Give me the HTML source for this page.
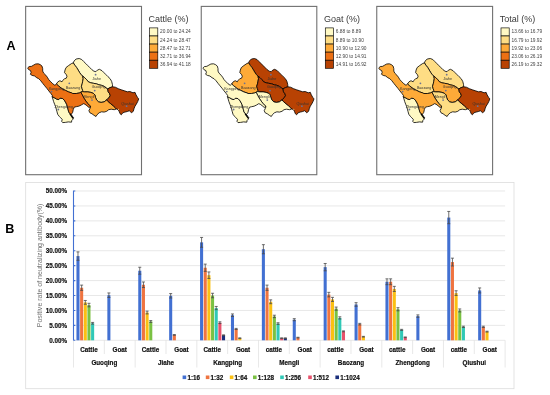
<!DOCTYPE html>
<html lang="en"><head><meta charset="utf-8"><title>Figure</title>
<style>html,body{margin:0;padding:0;background:#fff}svg{display:block}text{font-family:"Liberation Sans",sans-serif}</style>
</head><body>
<svg width="550" height="395" viewBox="0 0 550 395">
<rect width="550" height="395" fill="#fff"/>
<text x="6.6" y="50" font-size="12.6" font-weight="bold" fill="#000">A</text>
<text x="5.2" y="233.1" font-size="12.6" font-weight="bold" fill="#000">B</text>
<g transform="translate(0.0,0)">
<rect x="25.65" y="6.4" width="115.85" height="168.3" fill="#fff" stroke="#707070" stroke-width="1.1"/>
<g stroke="#000" stroke-width="0.8" stroke-linejoin="round">
<polygon points="52.1,96.6 54.1,97.6 56.7,99.1 58.7,99.6 60.2,98.1 62.7,98.6 64.2,100.1 65.5,102.1 66.8,104.7 67.4,106.7 68.0,109.2 68.7,111.8 69.7,113.5 71.2,114.5 72.6,116.5 73.6,117.8 72.8,119.4 71.8,120.4 71.5,122.2 68.3,121.9 65.3,122.4 62.7,122.6 61.7,121.4 62.2,119.4 60.7,117.8 59.2,116.3 57.7,114.3 57.0,111.8 56.3,109.2 55.6,106.7 54.6,104.2 53.6,101.6 52.9,99.1" fill="#FFF9C4"/>
<polygon points="73.3,62.9 74.1,61.0 76.1,59.0 79.2,58.5 81.7,59.5 83.7,61.5 85.8,63.6 87.8,65.6 89.8,67.6 91.8,69.6 93.9,71.2 95.9,71.7 97.4,70.1 99.4,69.3 102.0,70.7 104.0,72.7 106.0,74.7 108.0,76.7 110.1,78.7 111.6,81.3 112.4,84.3 112.6,86.8 110.1,87.6 107.7,88.9 106.0,87.9 104.0,86.3 101.4,85.3 98.9,84.8 96.4,83.8 93.4,83.3 90.8,82.8 88.3,81.8 86.8,79.8 84.7,77.7 82.7,76.2 81.2,74.7 79.7,72.7 78.2,70.1 76.7,67.6 75.1,65.6" fill="#FFF9C4"/>
<polygon points="56.4,84.0 57.9,81.8 59.9,80.7 62.0,81.8 63.0,80.2 64.5,78.7 66.3,78.2 67.0,76.2 66.0,74.2 64.5,72.7 65.0,70.1 66.0,67.6 68.5,65.6 71.6,63.5 73.3,62.9 75.1,65.6 76.7,67.6 78.2,70.1 79.7,72.7 81.2,74.7 82.7,76.2 83.2,78.7 82.7,81.3 82.2,83.8 81.4,86.3 82.0,88.4 82.7,90.4 82.2,91.6 80.8,92.2 79.3,93.0 76.3,93.5 72.7,93.5 71.6,92.9 68.5,91.9 65.5,90.4 63.0,89.4 60.9,87.8 58.4,85.8" fill="#FEDD84"/>
<polygon points="82.7,76.2 84.7,77.7 86.8,79.8 88.3,81.8 90.8,82.8 93.4,83.3 96.4,83.8 98.9,84.8 101.4,85.3 104.0,86.3 106.0,87.9 107.7,88.9 108.2,91.8 109.7,93.8 110.2,95.8 108.7,97.9 106.7,99.9 104.1,101.9 101.1,102.4 98.6,101.9 96.5,99.9 95.5,97.4 94.9,94.9 93.4,93.4 90.8,92.4 87.8,91.9 84.7,91.9 82.2,91.6 82.7,90.4 82.0,88.4 81.4,86.3 82.2,83.8 82.7,81.3 83.2,78.7" fill="#FEDD84"/>
<polygon points="80.8,92.2 82.2,91.6 84.7,91.9 87.8,91.9 90.8,92.4 93.4,93.4 94.9,94.9 95.5,97.4 96.5,99.9 98.6,101.9 101.1,102.4 104.1,101.9 106.7,99.9 108.2,101.6 110.7,103.7 113.2,105.7 115.3,107.7 116.5,109.0 114.2,109.7 111.2,109.2 108.7,109.7 106.7,111.3 104.1,112.1 101.6,111.8 99.1,112.8 97.0,114.8 96.0,116.5 94.0,115.3 92.0,113.8 89.9,112.8 88.9,110.7 89.9,108.7 90.6,106.9 89.9,105.7 87.9,103.7 85.9,101.1 83.9,98.1 82.3,95.1" fill="#FEAA38"/>
<polygon points="112.6,86.8 115.3,87.2 118.3,88.7 121.3,89.8 124.4,90.8 127.4,91.8 129.9,91.5 133.0,92.8 135.0,92.3 136.0,94.8 137.5,97.4 138.7,98.9 137.7,101.6 136.3,104.2 135.0,106.2 134.0,108.7 133.3,111.3 131.4,112.8 129.4,110.7 127.4,111.5 124.9,112.1 122.8,112.8 121.3,114.8 120.1,113.8 119.3,111.8 118.3,109.7 116.5,109.0 115.3,107.7 113.2,105.7 110.7,103.7 108.2,101.6 106.7,99.9 108.7,97.9 110.2,95.8 109.7,93.8 108.2,91.8 107.7,88.9 110.1,87.6" fill="#B84203"/>
<polygon points="27.8,67.8 29.1,66.6 31.6,66.3 33.6,65.1 35.6,64.0 38.2,63.8 40.2,64.6 42.0,66.1 42.7,68.6 42.7,71.1 43.7,73.2 45.8,75.2 47.3,77.2 48.8,79.7 50.8,81.8 52.8,83.8 54.9,85.3 56.4,84.0 58.4,85.8 60.9,87.8 63.0,89.4 65.5,90.4 68.5,91.9 71.6,92.9 72.7,93.5 76.3,93.5 79.3,93.0 80.8,92.2 82.3,95.1 83.9,98.1 85.9,101.1 87.9,103.7 89.9,105.7 90.6,106.9 88.9,107.4 86.9,105.7 84.9,104.2 83.4,103.7 81.3,105.0 78.8,106.2 76.3,106.7 74.2,107.2 73.2,109.7 72.7,112.3 71.2,114.5 69.7,113.5 68.7,111.8 68.0,109.2 67.4,106.7 66.8,104.7 65.5,102.1 64.2,100.1 62.7,98.6 60.2,98.1 58.7,99.6 56.7,99.1 54.1,97.6 52.1,96.6 52.3,95.4 50.8,93.4 48.8,90.9 46.8,88.3 44.7,85.8 42.7,83.3 40.7,80.7 38.7,78.7 36.7,77.7 34.6,76.0 32.1,75.4 30.3,74.2 31.1,72.7 30.6,70.6 28.6,69.6 27.8,68.3" fill="#EC7014"/>
<line x1="69.9" y1="113.9" x2="73.1" y2="118.4" stroke-width="1.3"/>
</g>
<circle cx="118.5" cy="109.2" r="0.55" fill="#FEE391"/>
<g font-size="3.65" fill="#333" text-anchor="middle">
<circle cx="95.6" cy="74.7" r="0.9" fill="#6a7296"/>
<text x="96.6" y="80.4">Jiahe</text>
<circle cx="94.7" cy="90.6" r="0.9" fill="#6a7296"/>
<text x="98.6" y="88.2">Guoqing</text>
<circle cx="69.3" cy="83.3" r="0.9" fill="#6a7296"/>
<text x="73.0" y="88.9">Baozang</text>
<circle cx="51.5" cy="91.6" r="0.9" fill="#6a7296"/>
<text x="56.6" y="90.0">Kangping</text>
<circle cx="92.0" cy="100.1" r="0.9" fill="#6a7296"/>
<text x="88.9" y="98.0">Mengli</text>
<circle cx="126.6" cy="106.2" r="0.9" fill="#6a7296"/>
<text x="127.5" y="104.7">Qiushui</text>
<circle cx="58.3" cy="109.5" r="0.9" fill="#6a7296"/>
<text x="63.8" y="107.5">Zhengdong</text>
</g>
<g transform="translate(0.0,0)">
<text x="148.4" y="21.7" font-size="9" fill="#3a3a3a">Cattle (%)</text>
<rect x="149.6" y="27.90" width="8.2" height="8.08" fill="#FFF9C4" stroke="#000" stroke-width="0.65"/>
<text x="160.1" y="33.30" font-size="4.8" fill="#444">20.00 to 24.24</text>
<rect x="149.6" y="35.98" width="8.2" height="8.08" fill="#FEDD84" stroke="#000" stroke-width="0.65"/>
<text x="160.1" y="41.50" font-size="4.8" fill="#444">24.24 to 28.47</text>
<rect x="149.6" y="44.06" width="8.2" height="8.08" fill="#FEAA38" stroke="#000" stroke-width="0.65"/>
<text x="160.1" y="49.70" font-size="4.8" fill="#444">28.47 to 32.71</text>
<rect x="149.6" y="52.14" width="8.2" height="8.08" fill="#EC7014" stroke="#000" stroke-width="0.65"/>
<text x="160.1" y="57.90" font-size="4.8" fill="#444">32.71 to 36.94</text>
<rect x="149.6" y="60.22" width="8.2" height="8.08" fill="#B84203" stroke="#000" stroke-width="0.65"/>
<text x="160.1" y="66.10" font-size="4.8" fill="#444">36.94 to 41.18</text>
</g>
</g>
<g transform="translate(175.3,0)">
<rect x="25.95" y="6.4" width="115.55" height="168.3" fill="#fff" stroke="#707070" stroke-width="1.1"/>
<g stroke="#000" stroke-width="0.8" stroke-linejoin="round">
<polygon points="52.1,96.6 54.1,97.6 56.7,99.1 58.7,99.6 60.2,98.1 62.7,98.6 64.2,100.1 65.5,102.1 66.8,104.7 67.4,106.7 68.0,109.2 68.7,111.8 69.7,113.5 71.2,114.5 72.6,116.5 73.6,117.8 72.8,119.4 71.8,120.4 71.5,122.2 68.3,121.9 65.3,122.4 62.7,122.6 61.7,121.4 62.2,119.4 60.7,117.8 59.2,116.3 57.7,114.3 57.0,111.8 56.3,109.2 55.6,106.7 54.6,104.2 53.6,101.6 52.9,99.1" fill="#FFF9C4"/>
<polygon points="73.3,62.9 74.1,61.0 76.1,59.0 79.2,58.5 81.7,59.5 83.7,61.5 85.8,63.6 87.8,65.6 89.8,67.6 91.8,69.6 93.9,71.2 95.9,71.7 97.4,70.1 99.4,69.3 102.0,70.7 104.0,72.7 106.0,74.7 108.0,76.7 110.1,78.7 111.6,81.3 112.4,84.3 112.6,86.8 110.1,87.6 107.7,88.9 106.0,87.9 104.0,86.3 101.4,85.3 98.9,84.8 96.4,83.8 93.4,83.3 90.8,82.8 88.3,81.8 86.8,79.8 84.7,77.7 82.7,76.2 81.2,74.7 79.7,72.7 78.2,70.1 76.7,67.6 75.1,65.6" fill="#B84203"/>
<polygon points="56.4,84.0 57.9,81.8 59.9,80.7 62.0,81.8 63.0,80.2 64.5,78.7 66.3,78.2 67.0,76.2 66.0,74.2 64.5,72.7 65.0,70.1 66.0,67.6 68.5,65.6 71.6,63.5 73.3,62.9 75.1,65.6 76.7,67.6 78.2,70.1 79.7,72.7 81.2,74.7 82.7,76.2 83.2,78.7 82.7,81.3 82.2,83.8 81.4,86.3 82.0,88.4 82.7,90.4 82.2,91.6 80.8,92.2 79.3,93.0 76.3,93.5 72.7,93.5 71.6,92.9 68.5,91.9 65.5,90.4 63.0,89.4 60.9,87.8 58.4,85.8" fill="#FEAA38"/>
<polygon points="82.7,76.2 84.7,77.7 86.8,79.8 88.3,81.8 90.8,82.8 93.4,83.3 96.4,83.8 98.9,84.8 101.4,85.3 104.0,86.3 106.0,87.9 107.7,88.9 108.2,91.8 109.7,93.8 110.2,95.8 108.7,97.9 106.7,99.9 104.1,101.9 101.1,102.4 98.6,101.9 96.5,99.9 95.5,97.4 94.9,94.9 93.4,93.4 90.8,92.4 87.8,91.9 84.7,91.9 82.2,91.6 82.7,90.4 82.0,88.4 81.4,86.3 82.2,83.8 82.7,81.3 83.2,78.7" fill="#B84203"/>
<polygon points="80.8,92.2 82.2,91.6 84.7,91.9 87.8,91.9 90.8,92.4 93.4,93.4 94.9,94.9 95.5,97.4 96.5,99.9 98.6,101.9 101.1,102.4 104.1,101.9 106.7,99.9 108.2,101.6 110.7,103.7 113.2,105.7 115.3,107.7 116.5,109.0 114.2,109.7 111.2,109.2 108.7,109.7 106.7,111.3 104.1,112.1 101.6,111.8 99.1,112.8 97.0,114.8 96.0,116.5 94.0,115.3 92.0,113.8 89.9,112.8 88.9,110.7 89.9,108.7 90.6,106.9 89.9,105.7 87.9,103.7 85.9,101.1 83.9,98.1 82.3,95.1" fill="#FFF9C4"/>
<polygon points="112.6,86.8 115.3,87.2 118.3,88.7 121.3,89.8 124.4,90.8 127.4,91.8 129.9,91.5 133.0,92.8 135.0,92.3 136.0,94.8 137.5,97.4 138.7,98.9 137.7,101.6 136.3,104.2 135.0,106.2 134.0,108.7 133.3,111.3 131.4,112.8 129.4,110.7 127.4,111.5 124.9,112.1 122.8,112.8 121.3,114.8 120.1,113.8 119.3,111.8 118.3,109.7 116.5,109.0 115.3,107.7 113.2,105.7 110.7,103.7 108.2,101.6 106.7,99.9 108.7,97.9 110.2,95.8 109.7,93.8 108.2,91.8 107.7,88.9 110.1,87.6" fill="#B84203"/>
<polygon points="27.8,67.8 29.1,66.6 31.6,66.3 33.6,65.1 35.6,64.0 38.2,63.8 40.2,64.6 42.0,66.1 42.7,68.6 42.7,71.1 43.7,73.2 45.8,75.2 47.3,77.2 48.8,79.7 50.8,81.8 52.8,83.8 54.9,85.3 56.4,84.0 58.4,85.8 60.9,87.8 63.0,89.4 65.5,90.4 68.5,91.9 71.6,92.9 72.7,93.5 76.3,93.5 79.3,93.0 80.8,92.2 82.3,95.1 83.9,98.1 85.9,101.1 87.9,103.7 89.9,105.7 90.6,106.9 88.9,107.4 86.9,105.7 84.9,104.2 83.4,103.7 81.3,105.0 78.8,106.2 76.3,106.7 74.2,107.2 73.2,109.7 72.7,112.3 71.2,114.5 69.7,113.5 68.7,111.8 68.0,109.2 67.4,106.7 66.8,104.7 65.5,102.1 64.2,100.1 62.7,98.6 60.2,98.1 58.7,99.6 56.7,99.1 54.1,97.6 52.1,96.6 52.3,95.4 50.8,93.4 48.8,90.9 46.8,88.3 44.7,85.8 42.7,83.3 40.7,80.7 38.7,78.7 36.7,77.7 34.6,76.0 32.1,75.4 30.3,74.2 31.1,72.7 30.6,70.6 28.6,69.6 27.8,68.3" fill="#FFF9C4"/>
<line x1="69.9" y1="113.9" x2="73.1" y2="118.4" stroke-width="1.3"/>
</g>
<circle cx="118.5" cy="109.2" r="0.55" fill="#FEE391"/>
<g font-size="3.65" fill="#333" text-anchor="middle">
<circle cx="95.6" cy="74.7" r="0.9" fill="#6a7296"/>
<text x="96.6" y="80.4">Jiahe</text>
<circle cx="94.7" cy="90.6" r="0.9" fill="#6a7296"/>
<text x="98.6" y="88.2">Guoqing</text>
<circle cx="69.3" cy="83.3" r="0.9" fill="#6a7296"/>
<text x="73.0" y="88.9">Baozang</text>
<circle cx="51.5" cy="91.6" r="0.9" fill="#6a7296"/>
<text x="56.6" y="90.0">Kangping</text>
<circle cx="92.0" cy="100.1" r="0.9" fill="#6a7296"/>
<text x="88.9" y="98.0">Mengli</text>
<circle cx="126.6" cy="106.2" r="0.9" fill="#6a7296"/>
<text x="127.5" y="104.7">Qiushui</text>
<circle cx="58.3" cy="109.5" r="0.9" fill="#6a7296"/>
<text x="63.8" y="107.5">Zhengdong</text>
</g>
<g transform="translate(0.4,0)">
<text x="148.4" y="21.7" font-size="9" fill="#3a3a3a">Goat (%)</text>
<rect x="149.6" y="27.90" width="8.2" height="8.08" fill="#FFF9C4" stroke="#000" stroke-width="0.65"/>
<text x="160.1" y="33.30" font-size="4.8" fill="#444">6.88 to 8.89</text>
<rect x="149.6" y="35.98" width="8.2" height="8.08" fill="#FEDD84" stroke="#000" stroke-width="0.65"/>
<text x="160.1" y="41.50" font-size="4.8" fill="#444">8.89 to 10.90</text>
<rect x="149.6" y="44.06" width="8.2" height="8.08" fill="#FEAA38" stroke="#000" stroke-width="0.65"/>
<text x="160.1" y="49.70" font-size="4.8" fill="#444">10.90 to 12.90</text>
<rect x="149.6" y="52.14" width="8.2" height="8.08" fill="#EC7014" stroke="#000" stroke-width="0.65"/>
<text x="160.1" y="57.90" font-size="4.8" fill="#444">12.90 to 14.91</text>
<rect x="149.6" y="60.22" width="8.2" height="8.08" fill="#B84203" stroke="#000" stroke-width="0.65"/>
<text x="160.1" y="66.10" font-size="4.8" fill="#444">14.91 to 16.92</text>
</g>
</g>
<g transform="translate(351.1,0)">
<rect x="25.65" y="6.4" width="115.85" height="168.3" fill="#fff" stroke="#707070" stroke-width="1.1"/>
<g stroke="#000" stroke-width="0.8" stroke-linejoin="round">
<polygon points="52.1,96.6 54.1,97.6 56.7,99.1 58.7,99.6 60.2,98.1 62.7,98.6 64.2,100.1 65.5,102.1 66.8,104.7 67.4,106.7 68.0,109.2 68.7,111.8 69.7,113.5 71.2,114.5 72.6,116.5 73.6,117.8 72.8,119.4 71.8,120.4 71.5,122.2 68.3,121.9 65.3,122.4 62.7,122.6 61.7,121.4 62.2,119.4 60.7,117.8 59.2,116.3 57.7,114.3 57.0,111.8 56.3,109.2 55.6,106.7 54.6,104.2 53.6,101.6 52.9,99.1" fill="#FFF9C4"/>
<polygon points="73.3,62.9 74.1,61.0 76.1,59.0 79.2,58.5 81.7,59.5 83.7,61.5 85.8,63.6 87.8,65.6 89.8,67.6 91.8,69.6 93.9,71.2 95.9,71.7 97.4,70.1 99.4,69.3 102.0,70.7 104.0,72.7 106.0,74.7 108.0,76.7 110.1,78.7 111.6,81.3 112.4,84.3 112.6,86.8 110.1,87.6 107.7,88.9 106.0,87.9 104.0,86.3 101.4,85.3 98.9,84.8 96.4,83.8 93.4,83.3 90.8,82.8 88.3,81.8 86.8,79.8 84.7,77.7 82.7,76.2 81.2,74.7 79.7,72.7 78.2,70.1 76.7,67.6 75.1,65.6" fill="#FEDD84"/>
<polygon points="56.4,84.0 57.9,81.8 59.9,80.7 62.0,81.8 63.0,80.2 64.5,78.7 66.3,78.2 67.0,76.2 66.0,74.2 64.5,72.7 65.0,70.1 66.0,67.6 68.5,65.6 71.6,63.5 73.3,62.9 75.1,65.6 76.7,67.6 78.2,70.1 79.7,72.7 81.2,74.7 82.7,76.2 83.2,78.7 82.7,81.3 82.2,83.8 81.4,86.3 82.0,88.4 82.7,90.4 82.2,91.6 80.8,92.2 79.3,93.0 76.3,93.5 72.7,93.5 71.6,92.9 68.5,91.9 65.5,90.4 63.0,89.4 60.9,87.8 58.4,85.8" fill="#FEDD84"/>
<polygon points="82.7,76.2 84.7,77.7 86.8,79.8 88.3,81.8 90.8,82.8 93.4,83.3 96.4,83.8 98.9,84.8 101.4,85.3 104.0,86.3 106.0,87.9 107.7,88.9 108.2,91.8 109.7,93.8 110.2,95.8 108.7,97.9 106.7,99.9 104.1,101.9 101.1,102.4 98.6,101.9 96.5,99.9 95.5,97.4 94.9,94.9 93.4,93.4 90.8,92.4 87.8,91.9 84.7,91.9 82.2,91.6 82.7,90.4 82.0,88.4 81.4,86.3 82.2,83.8 82.7,81.3 83.2,78.7" fill="#FEAA38"/>
<polygon points="80.8,92.2 82.2,91.6 84.7,91.9 87.8,91.9 90.8,92.4 93.4,93.4 94.9,94.9 95.5,97.4 96.5,99.9 98.6,101.9 101.1,102.4 104.1,101.9 106.7,99.9 108.2,101.6 110.7,103.7 113.2,105.7 115.3,107.7 116.5,109.0 114.2,109.7 111.2,109.2 108.7,109.7 106.7,111.3 104.1,112.1 101.6,111.8 99.1,112.8 97.0,114.8 96.0,116.5 94.0,115.3 92.0,113.8 89.9,112.8 88.9,110.7 89.9,108.7 90.6,106.9 89.9,105.7 87.9,103.7 85.9,101.1 83.9,98.1 82.3,95.1" fill="#FEDD84"/>
<polygon points="112.6,86.8 115.3,87.2 118.3,88.7 121.3,89.8 124.4,90.8 127.4,91.8 129.9,91.5 133.0,92.8 135.0,92.3 136.0,94.8 137.5,97.4 138.7,98.9 137.7,101.6 136.3,104.2 135.0,106.2 134.0,108.7 133.3,111.3 131.4,112.8 129.4,110.7 127.4,111.5 124.9,112.1 122.8,112.8 121.3,114.8 120.1,113.8 119.3,111.8 118.3,109.7 116.5,109.0 115.3,107.7 113.2,105.7 110.7,103.7 108.2,101.6 106.7,99.9 108.7,97.9 110.2,95.8 109.7,93.8 108.2,91.8 107.7,88.9 110.1,87.6" fill="#B84203"/>
<polygon points="27.8,67.8 29.1,66.6 31.6,66.3 33.6,65.1 35.6,64.0 38.2,63.8 40.2,64.6 42.0,66.1 42.7,68.6 42.7,71.1 43.7,73.2 45.8,75.2 47.3,77.2 48.8,79.7 50.8,81.8 52.8,83.8 54.9,85.3 56.4,84.0 58.4,85.8 60.9,87.8 63.0,89.4 65.5,90.4 68.5,91.9 71.6,92.9 72.7,93.5 76.3,93.5 79.3,93.0 80.8,92.2 82.3,95.1 83.9,98.1 85.9,101.1 87.9,103.7 89.9,105.7 90.6,106.9 88.9,107.4 86.9,105.7 84.9,104.2 83.4,103.7 81.3,105.0 78.8,106.2 76.3,106.7 74.2,107.2 73.2,109.7 72.7,112.3 71.2,114.5 69.7,113.5 68.7,111.8 68.0,109.2 67.4,106.7 66.8,104.7 65.5,102.1 64.2,100.1 62.7,98.6 60.2,98.1 58.7,99.6 56.7,99.1 54.1,97.6 52.1,96.6 52.3,95.4 50.8,93.4 48.8,90.9 46.8,88.3 44.7,85.8 42.7,83.3 40.7,80.7 38.7,78.7 36.7,77.7 34.6,76.0 32.1,75.4 30.3,74.2 31.1,72.7 30.6,70.6 28.6,69.6 27.8,68.3" fill="#FEAA38"/>
<line x1="69.9" y1="113.9" x2="73.1" y2="118.4" stroke-width="1.3"/>
</g>
<circle cx="118.5" cy="109.2" r="0.55" fill="#FEE391"/>
<g font-size="3.65" fill="#333" text-anchor="middle">
<circle cx="95.6" cy="74.7" r="0.9" fill="#6a7296"/>
<text x="96.6" y="80.4">Jiahe</text>
<circle cx="94.7" cy="90.6" r="0.9" fill="#6a7296"/>
<text x="98.6" y="88.2">Guoqing</text>
<circle cx="69.3" cy="83.3" r="0.9" fill="#6a7296"/>
<text x="73.0" y="88.9">Baozang</text>
<circle cx="51.5" cy="91.6" r="0.9" fill="#6a7296"/>
<text x="56.6" y="90.0">Kangping</text>
<circle cx="92.0" cy="100.1" r="0.9" fill="#6a7296"/>
<text x="88.9" y="98.0">Mengli</text>
<circle cx="126.6" cy="106.2" r="0.9" fill="#6a7296"/>
<text x="127.5" y="104.7">Qiushui</text>
<circle cx="58.3" cy="109.5" r="0.9" fill="#6a7296"/>
<text x="63.8" y="107.5">Zhengdong</text>
</g>
<g transform="translate(0.3,0)">
<text x="148.4" y="21.7" font-size="9" fill="#3a3a3a">Total (%)</text>
<rect x="149.6" y="27.90" width="8.2" height="8.08" fill="#FFF9C4" stroke="#000" stroke-width="0.65"/>
<text x="160.1" y="33.30" font-size="4.8" fill="#444">13.66 to 16.79</text>
<rect x="149.6" y="35.98" width="8.2" height="8.08" fill="#FEDD84" stroke="#000" stroke-width="0.65"/>
<text x="160.1" y="41.50" font-size="4.8" fill="#444">16.79 to 19.92</text>
<rect x="149.6" y="44.06" width="8.2" height="8.08" fill="#FEAA38" stroke="#000" stroke-width="0.65"/>
<text x="160.1" y="49.70" font-size="4.8" fill="#444">19.92 to 23.06</text>
<rect x="149.6" y="52.14" width="8.2" height="8.08" fill="#EC7014" stroke="#000" stroke-width="0.65"/>
<text x="160.1" y="57.90" font-size="4.8" fill="#444">23.06 to 26.19</text>
<rect x="149.6" y="60.22" width="8.2" height="8.08" fill="#B84203" stroke="#000" stroke-width="0.65"/>
<text x="160.1" y="66.10" font-size="4.8" fill="#444">26.19 to 29.32</text>
</g>
</g>
<rect x="25.7" y="182.4" width="488.3" height="206.3" fill="#fff" stroke="#dcdcdc" stroke-width="0.8"/>
<g stroke="#d9d9d9" stroke-width="0.6">
<line x1="73.5" y1="325.37" x2="505.1" y2="325.37"/>
<line x1="73.5" y1="310.44" x2="505.1" y2="310.44"/>
<line x1="73.5" y1="295.51" x2="505.1" y2="295.51"/>
<line x1="73.5" y1="280.58" x2="505.1" y2="280.58"/>
<line x1="73.5" y1="265.65" x2="505.1" y2="265.65"/>
<line x1="73.5" y1="250.72" x2="505.1" y2="250.72"/>
<line x1="73.5" y1="235.79" x2="505.1" y2="235.79"/>
<line x1="73.5" y1="220.86" x2="505.1" y2="220.86"/>
<line x1="73.5" y1="205.93" x2="505.1" y2="205.93"/>
<line x1="73.5" y1="191.00" x2="505.1" y2="191.00"/>
<line x1="73.5" y1="340.30" x2="505.1" y2="340.30"/>
<line x1="73.50" y1="340.30" x2="73.50" y2="367.50"/>
<line x1="104.33" y1="340.30" x2="104.33" y2="354.00"/>
<line x1="135.16" y1="340.30" x2="135.16" y2="367.50"/>
<line x1="165.99" y1="340.30" x2="165.99" y2="354.00"/>
<line x1="196.82" y1="340.30" x2="196.82" y2="367.50"/>
<line x1="227.65" y1="340.30" x2="227.65" y2="354.00"/>
<line x1="258.48" y1="340.30" x2="258.48" y2="367.50"/>
<line x1="289.31" y1="340.30" x2="289.31" y2="354.00"/>
<line x1="320.14" y1="340.30" x2="320.14" y2="367.50"/>
<line x1="350.97" y1="340.30" x2="350.97" y2="354.00"/>
<line x1="381.80" y1="340.30" x2="381.80" y2="367.50"/>
<line x1="412.63" y1="340.30" x2="412.63" y2="354.00"/>
<line x1="443.46" y1="340.30" x2="443.46" y2="367.50"/>
<line x1="474.29" y1="340.30" x2="474.29" y2="354.00"/>
<line x1="505.12" y1="340.30" x2="505.12" y2="367.50"/>
</g>
<g font-size="6.3" font-weight="bold" fill="#111" stroke="#111" stroke-width="0.18" text-anchor="end">
<text x="67" y="342.55">0.00%</text>
<text x="67" y="327.62">5.00%</text>
<text x="67" y="312.69">10.00%</text>
<text x="67" y="297.76">15.00%</text>
<text x="67" y="282.83">20.00%</text>
<text x="67" y="267.90">25.00%</text>
<text x="67" y="252.97">30.00%</text>
<text x="67" y="238.04">35.00%</text>
<text x="67" y="223.11">40.00%</text>
<text x="67" y="208.18">45.00%</text>
<text x="67" y="193.25">50.00%</text>
</g>
<text transform="translate(41.6,327.3) rotate(-90)" font-size="6.5" fill="#737373" textLength="123.7" lengthAdjust="spacingAndGlyphs">Positive rate of neutralizing antibody(%)</text>
<g><rect x="76.45" y="256.09" width="3.06" height="84.21" fill="#4270D2"/><rect x="80.11" y="287.75" width="3.06" height="52.55" fill="#EF7440"/><rect x="83.77" y="302.38" width="3.06" height="37.92" fill="#FBC012"/><rect x="87.43" y="305.07" width="3.06" height="35.23" fill="#7AC143"/><rect x="91.09" y="323.28" width="3.06" height="17.02" fill="#30C8B6"/><rect x="107.35" y="295.21" width="3.06" height="45.09" fill="#4270D2"/><rect x="138.25" y="270.73" width="3.06" height="69.57" fill="#4270D2"/><rect x="141.91" y="284.76" width="3.06" height="55.54" fill="#EF7440"/><rect x="145.57" y="312.53" width="3.06" height="27.77" fill="#FBC012"/><rect x="149.23" y="321.49" width="3.06" height="18.81" fill="#7AC143"/><rect x="169.15" y="295.81" width="3.06" height="44.49" fill="#4270D2"/><rect x="172.81" y="334.93" width="3.06" height="5.37" fill="#EF7440"/><rect x="200.05" y="242.36" width="3.06" height="97.94" fill="#4270D2"/><rect x="203.71" y="267.74" width="3.06" height="72.56" fill="#EF7440"/><rect x="207.37" y="275.21" width="3.06" height="65.09" fill="#FBC012"/><rect x="211.03" y="295.51" width="3.06" height="44.79" fill="#7AC143"/><rect x="214.69" y="308.05" width="3.06" height="32.25" fill="#30C8B6"/><rect x="218.35" y="322.68" width="3.06" height="17.62" fill="#E8526C"/><rect x="222.01" y="335.22" width="3.06" height="5.08" fill="#1B307C"/><rect x="230.95" y="315.22" width="3.06" height="25.08" fill="#4270D2"/><rect x="234.61" y="328.95" width="3.06" height="11.35" fill="#EF7440"/><rect x="238.27" y="338.21" width="3.06" height="2.09" fill="#FBC012"/><rect x="261.85" y="249.23" width="3.06" height="91.07" fill="#4270D2"/><rect x="265.51" y="287.75" width="3.06" height="52.55" fill="#EF7440"/><rect x="269.17" y="301.78" width="3.06" height="38.52" fill="#FBC012"/><rect x="272.83" y="316.41" width="3.06" height="23.89" fill="#7AC143"/><rect x="276.49" y="323.58" width="3.06" height="16.72" fill="#30C8B6"/><rect x="280.15" y="338.21" width="3.06" height="2.09" fill="#E8526C"/><rect x="283.81" y="338.21" width="3.06" height="2.09" fill="#1B307C"/><rect x="292.75" y="319.70" width="3.06" height="20.60" fill="#4270D2"/><rect x="296.41" y="337.61" width="3.06" height="2.69" fill="#EF7440"/><rect x="323.65" y="267.14" width="3.06" height="73.16" fill="#4270D2"/><rect x="327.31" y="294.61" width="3.06" height="45.69" fill="#EF7440"/><rect x="330.97" y="299.39" width="3.06" height="40.91" fill="#FBC012"/><rect x="334.63" y="308.65" width="3.06" height="31.65" fill="#7AC143"/><rect x="338.29" y="317.91" width="3.06" height="22.39" fill="#30C8B6"/><rect x="341.95" y="331.34" width="3.06" height="8.96" fill="#E8526C"/><rect x="354.55" y="304.47" width="3.06" height="35.83" fill="#4270D2"/><rect x="358.21" y="324.18" width="3.06" height="16.12" fill="#EF7440"/><rect x="361.87" y="336.72" width="3.06" height="3.58" fill="#FBC012"/><rect x="385.45" y="281.77" width="3.06" height="58.53" fill="#4270D2"/><rect x="389.11" y="281.77" width="3.06" height="58.53" fill="#EF7440"/><rect x="392.77" y="288.94" width="3.06" height="51.36" fill="#FBC012"/><rect x="396.43" y="309.25" width="3.06" height="31.05" fill="#7AC143"/><rect x="400.09" y="329.85" width="3.06" height="10.45" fill="#30C8B6"/><rect x="403.75" y="337.31" width="3.06" height="2.99" fill="#E8526C"/><rect x="416.35" y="316.11" width="3.06" height="24.19" fill="#4270D2"/><rect x="447.25" y="217.58" width="3.06" height="122.72" fill="#4270D2"/><rect x="450.91" y="262.07" width="3.06" height="78.23" fill="#EF7440"/><rect x="454.57" y="293.12" width="3.06" height="47.18" fill="#FBC012"/><rect x="458.23" y="310.44" width="3.06" height="29.86" fill="#7AC143"/><rect x="461.89" y="326.86" width="3.06" height="13.44" fill="#30C8B6"/><rect x="478.15" y="290.43" width="3.06" height="49.87" fill="#4270D2"/><rect x="481.81" y="326.86" width="3.06" height="13.44" fill="#EF7440"/><rect x="485.47" y="331.64" width="3.06" height="8.66" fill="#FBC012"/></g>
<g stroke="#4a4a4a" stroke-width="0.8" fill="none"><path d="M77.98 251.88V260.31M76.48 251.88h3M76.48 260.31h3"/><path d="M81.64 285.12V290.37M80.14 285.12h3M80.14 290.37h3"/><path d="M85.30 300.48V304.27M83.80 300.48h3M83.80 304.27h3"/><path d="M88.96 303.30V306.83M87.46 303.30h3M87.46 306.83h3"/><path d="M92.62 322.43V324.13M91.12 322.43h3M91.12 324.13h3"/><path d="M108.88 292.96V297.47M107.38 292.96h3M107.38 297.47h3"/><path d="M139.78 267.25V274.20M138.28 267.25h3M138.28 274.20h3"/><path d="M143.44 281.98V287.54M141.94 281.98h3M141.94 287.54h3"/><path d="M147.10 311.14V313.92M145.60 311.14h3M145.60 313.92h3"/><path d="M150.76 320.55V322.43M149.26 320.55h3M149.26 322.43h3"/><path d="M170.68 293.58V298.03M169.18 293.58h3M169.18 298.03h3"/><path d="M174.34 334.57V335.28M172.84 334.57h3M172.84 335.28h3"/><path d="M201.58 237.46V247.26M200.08 237.46h3M200.08 247.26h3"/><path d="M205.24 264.11V271.37M203.74 264.11h3M203.74 271.37h3"/><path d="M208.90 271.95V278.46M207.40 271.95h3M207.40 278.46h3"/><path d="M212.56 293.27V297.75M211.06 293.27h3M211.06 297.75h3"/><path d="M216.22 306.44V309.66M214.72 306.44h3M214.72 309.66h3"/><path d="M219.88 321.80V323.56M218.38 321.80h3M218.38 323.56h3"/><path d="M223.54 334.87V335.58M222.04 334.87h3M222.04 335.58h3"/><path d="M232.48 313.96V316.47M230.98 313.96h3M230.98 316.47h3"/><path d="M236.14 328.39V329.52M234.64 328.39h3M234.64 329.52h3"/><path d="M239.80 337.85V338.57M238.30 337.85h3M238.30 338.57h3"/><path d="M263.38 244.67V253.78M261.88 244.67h3M261.88 253.78h3"/><path d="M267.04 285.12V290.37M265.54 285.12h3M265.54 290.37h3"/><path d="M270.70 299.85V303.71M269.20 299.85h3M269.20 303.71h3"/><path d="M274.36 315.22V317.61M272.86 315.22h3M272.86 317.61h3"/><path d="M278.02 322.74V324.41M276.52 322.74h3M276.52 324.41h3"/><path d="M281.68 337.85V338.57M280.18 337.85h3M280.18 338.57h3"/><path d="M285.34 337.85V338.57M283.84 337.85h3M283.84 338.57h3"/><path d="M294.28 318.67V320.73M292.78 318.67h3M292.78 320.73h3"/><path d="M297.94 337.25V337.97M296.44 337.25h3M296.44 337.97h3"/><path d="M325.18 263.49V270.80M323.68 263.49h3M323.68 270.80h3"/><path d="M328.84 292.33V296.90M327.34 292.33h3M327.34 296.90h3"/><path d="M332.50 297.35V301.44M331.00 297.35h3M331.00 301.44h3"/><path d="M336.16 307.07V310.23M334.66 307.07h3M334.66 310.23h3"/><path d="M339.82 316.79V319.02M338.32 316.79h3M338.32 319.02h3"/><path d="M343.48 330.89V331.79M341.98 330.89h3M341.98 331.79h3"/><path d="M356.08 302.68V306.26M354.58 302.68h3M354.58 306.26h3"/><path d="M359.74 323.37V324.98M358.24 323.37h3M358.24 324.98h3"/><path d="M363.40 336.36V337.08M361.90 336.36h3M361.90 337.08h3"/><path d="M386.98 278.85V284.70M385.48 278.85h3M385.48 284.70h3"/><path d="M390.64 278.85V284.70M389.14 278.85h3M389.14 284.70h3"/><path d="M394.30 286.37V291.51M392.80 286.37h3M392.80 291.51h3"/><path d="M397.96 307.69V310.80M396.46 307.69h3M396.46 310.80h3"/><path d="M401.62 329.33V330.37M400.12 329.33h3M400.12 330.37h3"/><path d="M405.28 336.96V337.67M403.78 336.96h3M403.78 337.67h3"/><path d="M417.88 314.90V317.32M416.38 314.90h3M416.38 317.32h3"/><path d="M448.78 211.44V223.71M447.28 211.44h3M447.28 223.71h3"/><path d="M452.44 258.16V265.98M450.94 258.16h3M450.94 265.98h3"/><path d="M456.10 290.76V295.48M454.60 290.76h3M454.60 295.48h3"/><path d="M459.76 308.95V311.93M458.26 308.95h3M458.26 311.93h3"/><path d="M463.42 326.19V327.53M461.92 326.19h3M461.92 327.53h3"/><path d="M479.68 287.94V292.93M478.18 287.94h3M478.18 292.93h3"/><path d="M483.34 326.19V327.53M481.84 326.19h3M481.84 327.53h3"/><path d="M487.00 331.21V332.07M485.50 331.21h3M485.50 332.07h3"/></g>
<path d="M73.50 190.6V340.60M73.50 340.30h1.8M73.50 325.37h1.8M73.50 310.44h1.8M73.50 295.51h1.8M73.50 280.58h1.8M73.50 265.65h1.8M73.50 250.72h1.8M73.50 235.79h1.8M73.50 220.86h1.8M73.50 205.93h1.8M73.50 191.00h1.8" stroke="#4270D2" stroke-width="1.1" fill="none"/>
<g font-size="6.3" font-weight="bold" fill="#111" stroke="#111" stroke-width="0.18" text-anchor="middle">
<text x="88.91" y="351.7">Cattle</text>
<text x="104.33" y="365.2">Guoqing</text>
<text x="119.75" y="351.7">Goat</text>
<text x="150.57" y="351.7">Cattle</text>
<text x="165.99" y="365.2">Jiahe</text>
<text x="181.41" y="351.7">Goat</text>
<text x="212.23" y="351.7">Cattle</text>
<text x="227.65" y="365.2">Kangping</text>
<text x="243.06" y="351.7">Goat</text>
<text x="273.90" y="351.7">cattle</text>
<text x="289.31" y="365.2">Mengli</text>
<text x="304.73" y="351.7">Goat</text>
<text x="335.56" y="351.7">cattle</text>
<text x="350.97" y="365.2">Baozang</text>
<text x="366.38" y="351.7">Goat</text>
<text x="397.21" y="351.7">cattle</text>
<text x="412.63" y="365.2">Zhengdong</text>
<text x="428.05" y="351.7">Goat</text>
<text x="458.88" y="351.7">cattle</text>
<text x="474.29" y="365.2">Qiushui</text>
<text x="489.70" y="351.7">Goat</text>
</g>
<g font-size="6.3" font-weight="bold" fill="#111" stroke="#111" stroke-width="0.18">
<rect x="182.6" y="375.5" width="3.6" height="3.6" fill="#4270D2" stroke="none"/>
<text x="187.4" y="379.8">1:16</text>
<rect x="205.8" y="375.5" width="3.6" height="3.6" fill="#EF7440" stroke="none"/>
<text x="210.6" y="379.8">1:32</text>
<rect x="229.8" y="375.5" width="3.6" height="3.6" fill="#FBC012" stroke="none"/>
<text x="234.6" y="379.8">1:64</text>
<rect x="253.0" y="375.5" width="3.6" height="3.6" fill="#7AC143" stroke="none"/>
<text x="257.8" y="379.8">1:128</text>
<rect x="280.2" y="375.5" width="3.6" height="3.6" fill="#30C8B6" stroke="none"/>
<text x="285.0" y="379.8">1:256</text>
<rect x="308.2" y="375.5" width="3.6" height="3.6" fill="#E8526C" stroke="none"/>
<text x="313.0" y="379.8">1:512</text>
<rect x="335.4" y="375.5" width="3.6" height="3.6" fill="#1B307C" stroke="none"/>
<text x="340.2" y="379.8">1:1024</text>
</g>
</svg>
</body></html>
